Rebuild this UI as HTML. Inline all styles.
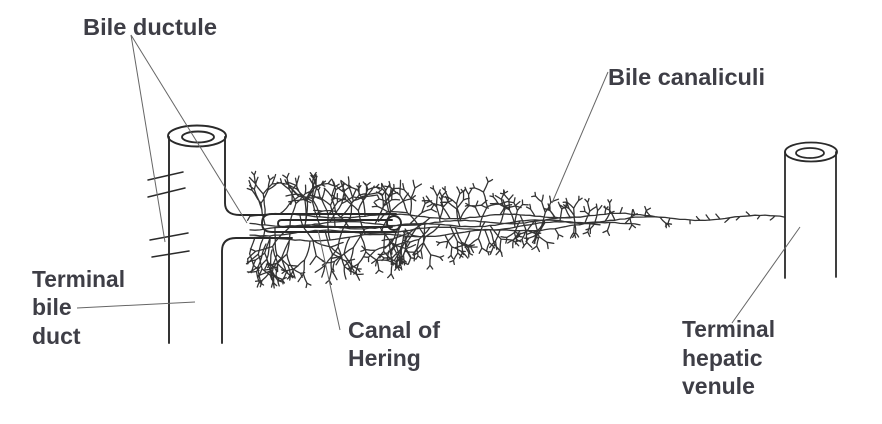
<!DOCTYPE html>
<html>
<head>
<meta charset="utf-8">
<style>
html,body{margin:0;padding:0;background:#ffffff;}
body{width:882px;height:424px;overflow:hidden;}
svg{display:block;}
.lbl{font-family:"Liberation Sans",Arial,sans-serif;font-weight:bold;font-size:23px;fill:#3e3e46;}
</style>
</head>
<body>
<svg id="s" width="882" height="424" viewBox="0 0 882 424" xmlns="http://www.w3.org/2000/svg">
  <rect width="882" height="424" fill="#ffffff"/>
  <g id="net" fill="none" stroke="#333" stroke-width="1.3" stroke-linecap="round" stroke-linejoin="round"></g>

  <!-- left tube -->
  <g fill="none" stroke="#2a2a2a" stroke-width="1.9" stroke-linecap="round" stroke-linejoin="round">
    <ellipse cx="197" cy="136" rx="29" ry="10.5"/>
    <ellipse cx="198" cy="137" rx="16" ry="5.5"/>
    <path d="M169,137 V343"/>
    <path d="M225,137 V203 Q225,215 240,215 H266"/>
    <path d="M222,343 V251 Q222,238 236,238 H292"/>
    <path d="M272,214 H396 M272,232 H396 M272,214 Q262,214 262,223 Q262,232 272,232"/>
    <path d="M282,220 H392 M282,227 H392 M282,220 Q278,220 278,223.5 Q278,227 282,227"/>
    <circle cx="394" cy="223" r="7"/>
  </g>
  <g fill="none" stroke="#2a2a2a" stroke-width="1.5" stroke-linecap="round">
    <path d="M148,180 L183,172"/>
    <path d="M148,197 L185,188"/>
    <path d="M150,240 L188,233"/>
    <path d="M152,257 L189,251"/>
  </g>

  <!-- right tube -->
  <g fill="none" stroke="#2a2a2a" stroke-width="1.8" stroke-linecap="round">
    <ellipse cx="811" cy="152" rx="26" ry="9.5"/>
    <ellipse cx="810" cy="153" rx="14" ry="5"/>
    <path d="M785,152 V278"/>
    <path d="M836,152 V277"/>
  </g>

  <!-- leader lines -->
  <g fill="none" stroke="#666" stroke-width="1">
    <path d="M131,35 L165,242"/>
    <path d="M131,35 L247,223"/>
    <path d="M608,72 L552,203"/>
    <path d="M77,308 L195,302"/>
    <path d="M340,330 L318,230"/>
    <path d="M732,323 L800,227"/>
  </g>

  <text class="lbl" x="83" y="35" textLength="134" lengthAdjust="spacingAndGlyphs">Bile ductule</text>
  <text class="lbl" x="608" y="85" textLength="157" lengthAdjust="spacingAndGlyphs">Bile canaliculi</text>
  <text class="lbl" x="32" y="287" textLength="93" lengthAdjust="spacingAndGlyphs">Terminal</text>
  <text class="lbl" x="32" y="315">bile</text>
  <text class="lbl" x="32" y="344">duct</text>
  <text class="lbl" x="348" y="338" textLength="92" lengthAdjust="spacingAndGlyphs">Canal of</text>
  <text class="lbl" x="348" y="366">Hering</text>
  <text class="lbl" x="682" y="337" textLength="93" lengthAdjust="spacingAndGlyphs">Terminal</text>
  <text class="lbl" x="682" y="366">hepatic</text>
  <text class="lbl" x="682" y="394">venule</text>
</svg>
<script>
(function(){
  var seed = 4242;
  function R(){ seed = (seed * 16807) % 2147483647; return (seed - 1) / 2147483646; }
  function lerp(pts, x){
    if (x <= pts[0][0]) return pts[0][1];
    for (var i = 1; i < pts.length; i++){
      if (x <= pts[i][0]){ var a = pts[i-1], b = pts[i]; return a[1] + (b[1]-a[1])*(x-a[0])/(b[0]-a[0]); }
    }
    return pts[pts.length-1][1];
  }
  var HW = [[245,48],[330,46],[420,36],[500,30],[560,22],[640,15],[700,8],[785,3]];
  var CY = [[245,228],[400,226],[500,224],[560,221],[700,218],[785,217]];
  var d = [];
  function f(v){ return v.toFixed(1); }
  function br(x, y, a, len, depth){
    var n = Math.max(2, Math.round(len/5)), s = 'M' + f(x) + ' ' + f(y);
    var stopped = false;
    for (var i = 0; i < n; i++){
      a += (R()-0.5)*0.35;
      var nx = x + Math.cos(a)*len/n, ny = y + Math.sin(a)*len/n;
      if (nx < 246){ stopped = true; break; }
      x = nx; y = ny;
      s += 'L' + f(x) + ' ' + f(y);
    }
    d.push(s);
    if (stopped) return;
    if (depth > 0){
      var sp = 0.4 + R()*0.35;
      br(x, y, a - sp, len*(0.55 + R()*0.2), depth-1);
      br(x, y, a + sp, len*(0.55 + R()*0.2), depth-1);
    } else if (depth === 0 && len > 7 && R() < 0.45){
      var sp2 = 0.45 + R()*0.3;
      br(x, y, a - sp2, len*0.45, -1);
      br(x, y, a + sp2, len*0.45, -1);
    }
  }
  var trunks = [
    {o:0.0,  x0:785, ph:0.3, gap:13},
    {o:-0.45,x0:660, ph:1.7, gap:14},
    {o:0.45, x0:640, ph:2.9, gap:14},
    {o:-0.12,x0:580, ph:4.4, gap:20},
    {o:0.22, x0:600, ph:5.6, gap:22}
  ];
  trunks.forEach(function(t){
    var s = '', x = t.x0, first = true, next = x - (6 + R()*6);
    var lastY = 0;
    while (x >= 250){
      var hw = lerp(HW, x), cy = lerp(CY, x);
      var y = cy + t.o*hw*0.55 + 2.2*Math.sin(x/18 + t.ph) + (R()-0.5)*0.8;
      s += (first ? 'M' : 'L') + f(x) + ' ' + f(y);
      first = false; lastY = y;
      if (x <= next){
        if (hw < 9){
          next = x - (7 + R()*4);
          var up = R() < 0.5;
          var ang = up ? (-Math.PI + 0.6 + R()*0.4) : (Math.PI - 0.6 - R()*0.4);
          br(x, y, ang, 4 + R()*3, -1);
        } else {
          next = x - (t.gap*0.6 + R()*t.gap*0.8);
          var upP = 0.5 - t.o*0.5;
          var dirUp = R() < upP;
          var space = dirUp ? (y - (cy - hw)) : ((cy + hw) - y);
          if (space > 4){
            var base = dirUp ? -Math.PI/2 : Math.PI/2;
            var ang2 = base + (R()-0.5)*1.5;
            if (x < 275) ang2 = base + (R()-0.2)*0.8*(dirUp ? -1 : 1);
            var L = space*(0.42 + 0.22*R());
            var dep = space > 26 ? 2 : (space > 11 ? 1 : 0);
            br(x, y, ang2, L, dep);
          }
        }
      }
      x -= 5;
    }
    d.push(s);
  });
  // left-end branches spreading outward
  br(262, 210, -Math.PI*0.58, 22, 1);
  br(266, 244, Math.PI*0.6, 24, 1);
  br(272, 250, Math.PI*0.55, 20, 1);
  var g = document.getElementById('net');
  var p = document.createElementNS('http://www.w3.org/2000/svg', 'path');
  p.setAttribute('d', d.join(''));
  g.appendChild(p);
})();
</script>
</body>
</html>
